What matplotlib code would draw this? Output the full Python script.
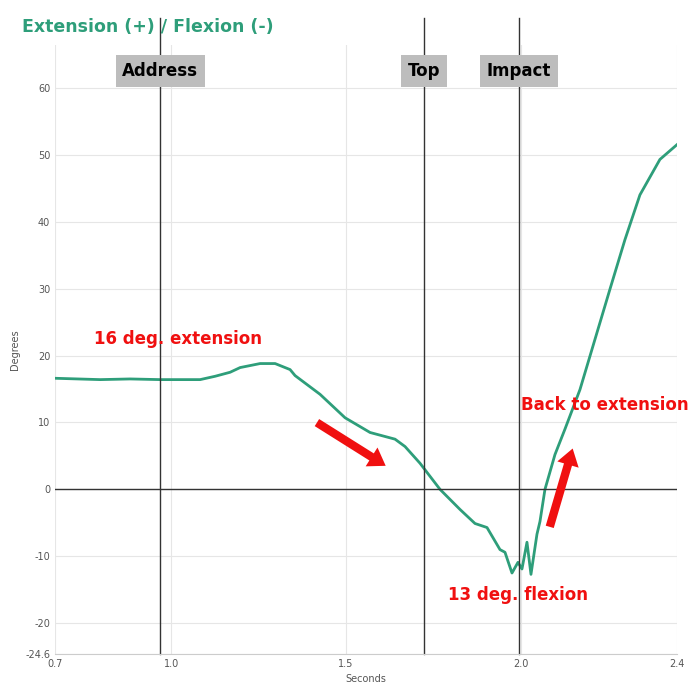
import matplotlib
matplotlib.use("Agg")
import matplotlib.pyplot as plt

# data (x in seconds, y in degrees)
xs_px = [55,100,130,160,200,215,230,240,260,275,290,295,320,345,370,395,405,420,440,460,475,487,500,505,512,518,522,527,531,537,540,545,555,565,580,595,610,625,640,660,677]
ys = [16.6,16.4,16.5,16.4,16.4,16.9,17.5,18.2,18.8,18.8,17.9,17.0,14.2,10.7,8.5,7.5,6.4,3.9,0,-3,-5.1,-5.7,-9,-9.4,-12.5,-10.9,-11.9,-7.9,-12.7,-6.7,-4.8,0,5.2,9,14.9,22.4,29.9,37.3,44,49.3,51.5]
xs = [1 + (p - 171) / 350 for p in xs_px]
events = ["Address", "Top", "Impact"]
event_x = [0.969, 1.723, 1.994]
xticks = [0.668, 1.0, 1.5, 2.0, 2.446]
xtick_labels = ["0.7", "1.0", "1.5", "2.0", "2.4"]
yticks = [-24.6, -20, -10, 0, 10, 20, 30, 40, 50, 60]
ytick_labels = ["-24.6", "-20", "-10", "0", "10", "20", "30", "40", "50", "60"]

green = "#2e9e7a"
fig = plt.figure(figsize=(7, 7), dpi=100)
ax = fig.add_axes([55/700, 46/700, 622/700, 609/700])
ax.set_xlim(0.668, 2.446)
ax.set_ylim(-24.6, 66.4)
ax.plot(xs, ys, color=green, lw=2)
ax.set_xticks(xticks); ax.set_xticklabels(xtick_labels, fontsize=7, color="#555")
ax.set_yticks(yticks); ax.set_yticklabels(ytick_labels, fontsize=7, color="#555")
ax.tick_params(length=0)
ax.grid(color="#e6e6e6", lw=0.8)
for s in ["top", "right", "left"]:
    ax.spines[s].set_visible(False)
ax.spines["bottom"].set_color("#ccc")
ax.axhline(0, color="#333", lw=1)
for name, ex in zip(events, event_x):
    ax.axvline(ex, ymin=0, ymax=1.045, color="#333", lw=1, clip_on=False)
    ax.text(ex, 62.5, name, ha="center", va="center", fontsize=12, fontweight="bold",
            bbox=dict(boxstyle="square,pad=0.4", fc="#bdbdbd", ec="none"))
ax.set_xlabel("Seconds", fontsize=7, color="#555")
ax.set_ylabel("Degrees", fontsize=7, color="#555")
fig.text(22/700, 1 - 27/700, "Extension (+) / Flexion (-)", color=green, fontsize=12.5,
         fontweight="bold", va="center")
red = "#f01010"
ax.text(0.78, 22.4, "16 deg. extension", color=red, fontsize=12, fontweight="bold", va="center")
ax.text(2.0, 12.6, "Back to extension", color=red, fontsize=12, fontweight="bold", va="center")
ax.text(1.79, -15.8, "13 deg. flexion", color=red, fontsize=12, fontweight="bold", va="center")
ap = dict(arrowstyle="simple,head_width=1.6,head_length=1.2,tail_width=0.6", color=red, lw=0)
ax.annotate("", xy=(1.62, 3.3), xytext=(1.41, 10.2), arrowprops=ap)
ax.annotate("", xy=(2.15, 6.5), xytext=(2.08, -6), arrowprops=ap)
fig.savefig("out.png")
